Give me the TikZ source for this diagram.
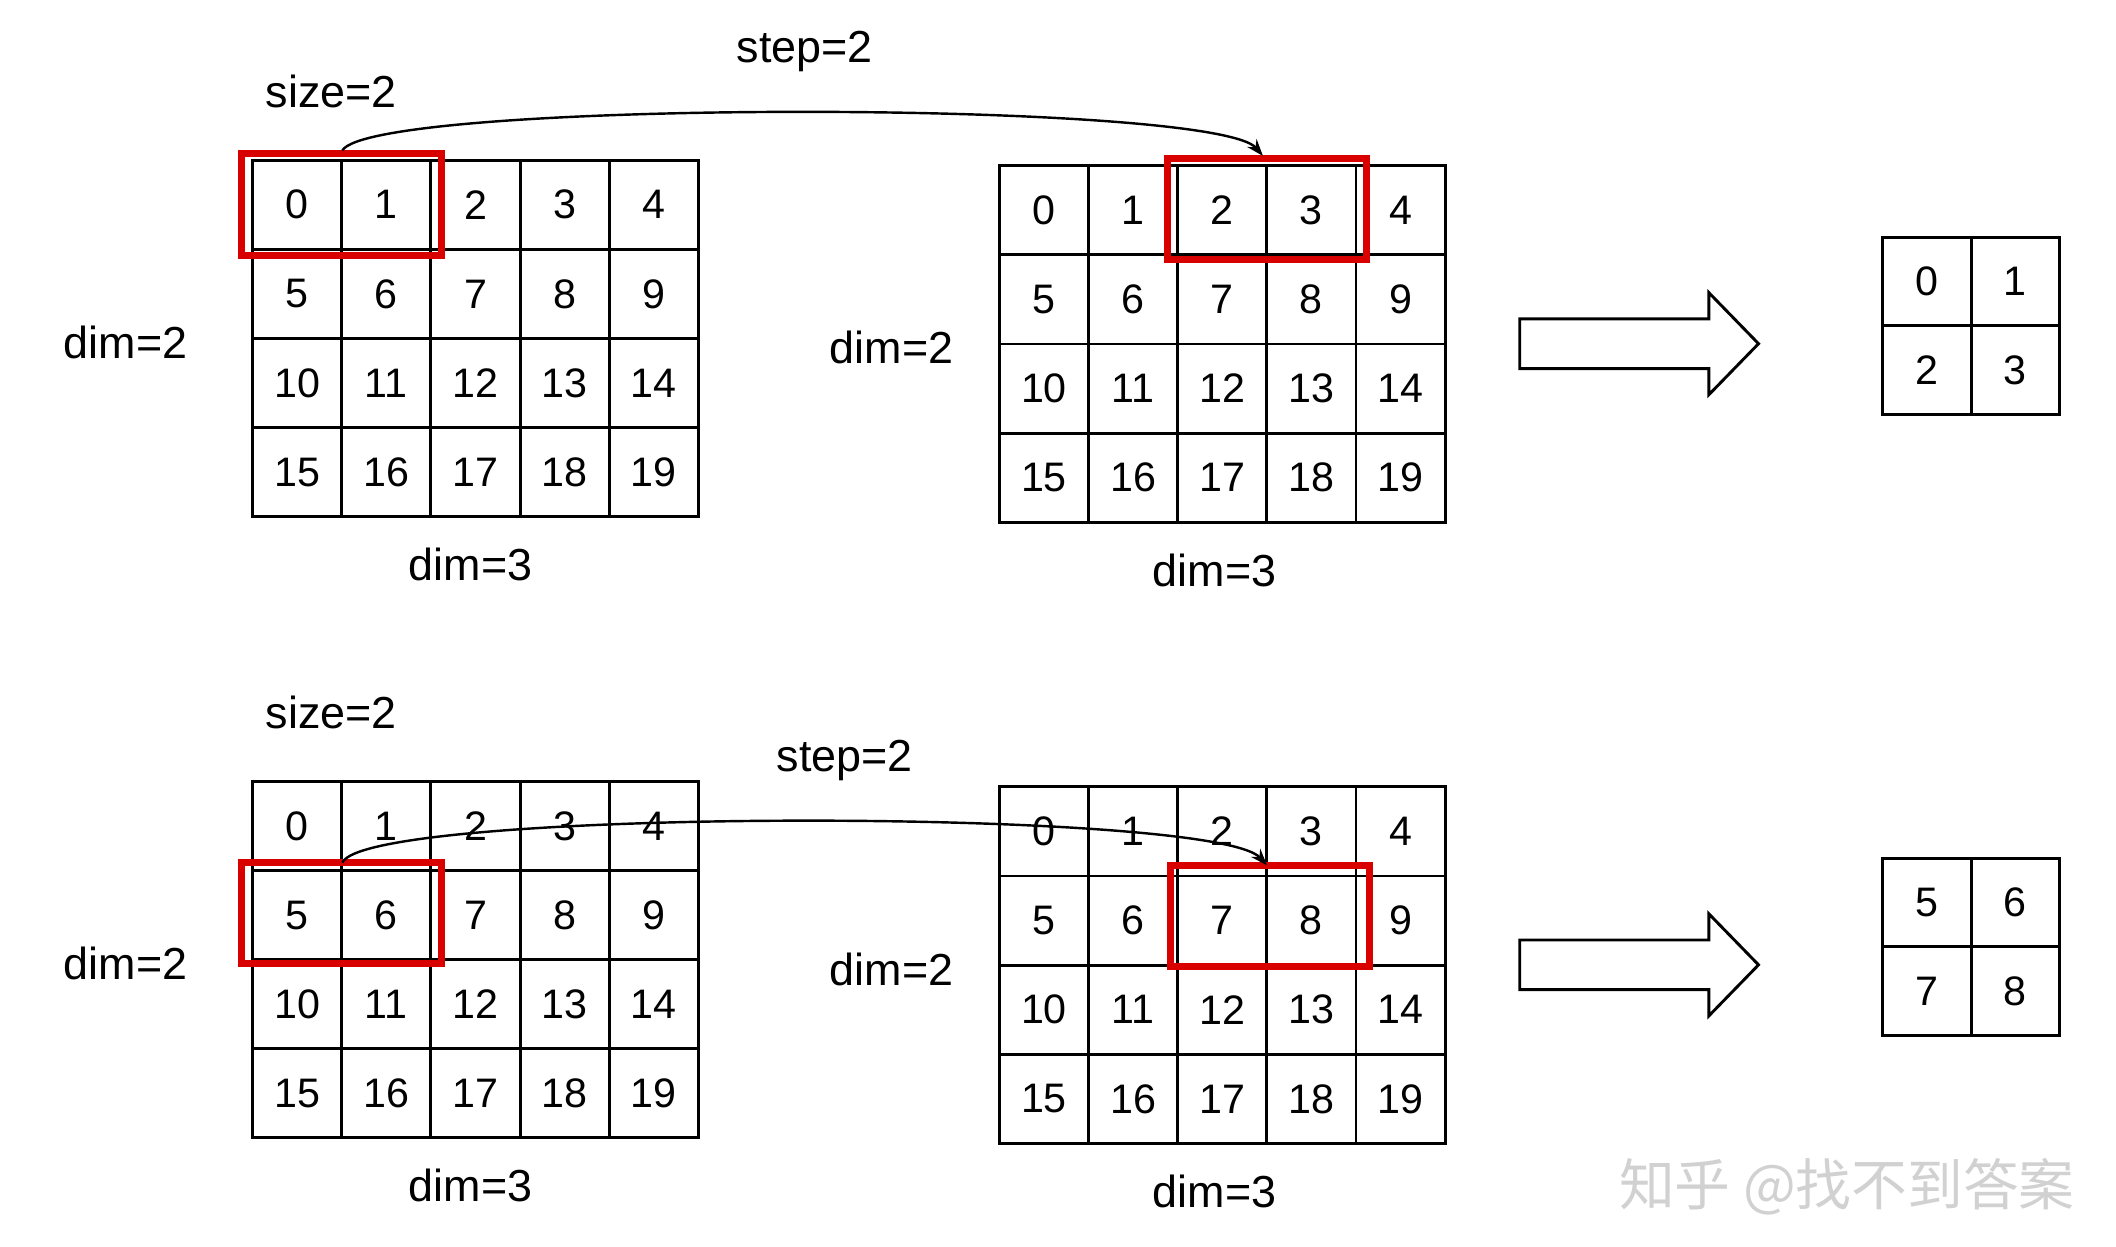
\documentclass[tikz,border=0pt]{standalone}
\usepackage{fontspec}
\setmainfont{Liberation Sans}
\newfontfamily\cjk{Noto Sans CJK SC}
\usetikzlibrary{arrows.meta,shapes.arrows}
\tikzset{
 cell/.style={draw,line width=1.2pt,minimum width=64.6*0.02cm,minimum height=64.6*0.02cm,inner sep=0,font=\fontsize{17}{20}\selectfont},
 lbl/.style={font=\fontsize{18.5}{21}\selectfont},
 redbox/.style={draw=red!85!black,line width=3pt},
 curv/.style={line width=1pt,-{Stealth[length=7pt,width=5pt]}},
 bigarrow/.style={draw,line width=1.2pt,fill=white},
}
\newcommand{\mygrid}[3]{% name, x0, y0
 \foreach \r in {0,...,3}{\foreach \c in {0,...,4}{
  \pgfmathtruncatemacro{\v}{\r*5+\c}
  \node[cell] (#1-\v) at ({#2+32.3+\c*64.6},{#3+32.3+\r*64.6}) {\v};}}}
\begin{document}
\begin{tikzpicture}[x=0.02cm,y=-0.02cm]
\useasboundingbox (0,0) rectangle (1533,902.7);
% ---- top ----
\mygrid{a}{183}{116}
\mygrid{b}{724}{120}
\node[redbox,minimum width=145*0.02cm,minimum height=74*0.02cm,inner sep=0] (ra) at (247.5,148) {};
\node[redbox,minimum width=144*0.02cm,minimum height=73*0.02cm,inner sep=0] (rb) at (918,151.5) {};
\coordinate (sa) at (248,109);
\coordinate (ea) at (915,113);
\draw[curv] (sa) .. controls (270,72) and (880,72) .. (ea);
\node[lbl] (s1) at (240,66) {size=2};
\node[lbl] (t1) at (583,37) {step=2};
\node[lbl] (d1) at (91,248) {dim=2};
\node[lbl] (d2) at (341,409) {dim=3};
\node[lbl] (d3) at (646,252) {dim=2};
\node[lbl] (d4) at (880,413) {dim=3};
\draw[bigarrow] (1101,231) -- (1238,231) -- (1238,212) -- (1274,249) -- (1238,286) -- (1238,267) -- (1101,267) -- cycle;
\node[cell,minimum size=64*0.02cm] (c0) at (1396,204) {0};
\node[cell,minimum size=64*0.02cm] (c1) at (1460,204) {1};
\node[cell,minimum size=64*0.02cm] (c2) at (1396,268) {2};
\node[cell,minimum size=64*0.02cm] (c3) at (1460,268) {3};
% ---- bottom ----
\mygrid{p}{183}{566}
\mygrid{q}{724}{570}
\node[redbox,minimum width=145*0.02cm,minimum height=73*0.02cm,inner sep=0] (rp) at (247.5,661.5) {};
\node[redbox,minimum width=144*0.02cm,minimum height=73*0.02cm,inner sep=0] (rq) at (920,663.5) {};
\coordinate (sp) at (248,625);
\coordinate (eq) at (918,627);
\draw[curv] (sp) .. controls (265,585) and (880,585) .. (eq);
\node[lbl] (s2) at (240,516) {size=2};
\node[lbl] (t2) at (612,551) {step=2};
\node[lbl] (d5) at (91,698) {dim=2};
\node[lbl] (d6) at (341,859) {dim=3};
\node[lbl] (d7) at (646,702) {dim=2};
\node[lbl] (d8) at (880,863) {dim=3};
\draw[bigarrow] (1101,681) -- (1238,681) -- (1238,662) -- (1274,699) -- (1238,736) -- (1238,717) -- (1101,717) -- cycle;
\node[cell,minimum size=64*0.02cm] (e0) at (1396,654) {5};
\node[cell,minimum size=64*0.02cm] (e1) at (1460,654) {6};
\node[cell,minimum size=64*0.02cm] (e2) at (1396,718) {7};
\node[cell,minimum size=64*0.02cm] (e3) at (1460,718) {8};
\node[font=\cjk\fontsize{23}{26}\selectfont,text=black!18] (wm) at (1338,860) {知乎 @找不到答案};
\end{tikzpicture}
\end{document}
